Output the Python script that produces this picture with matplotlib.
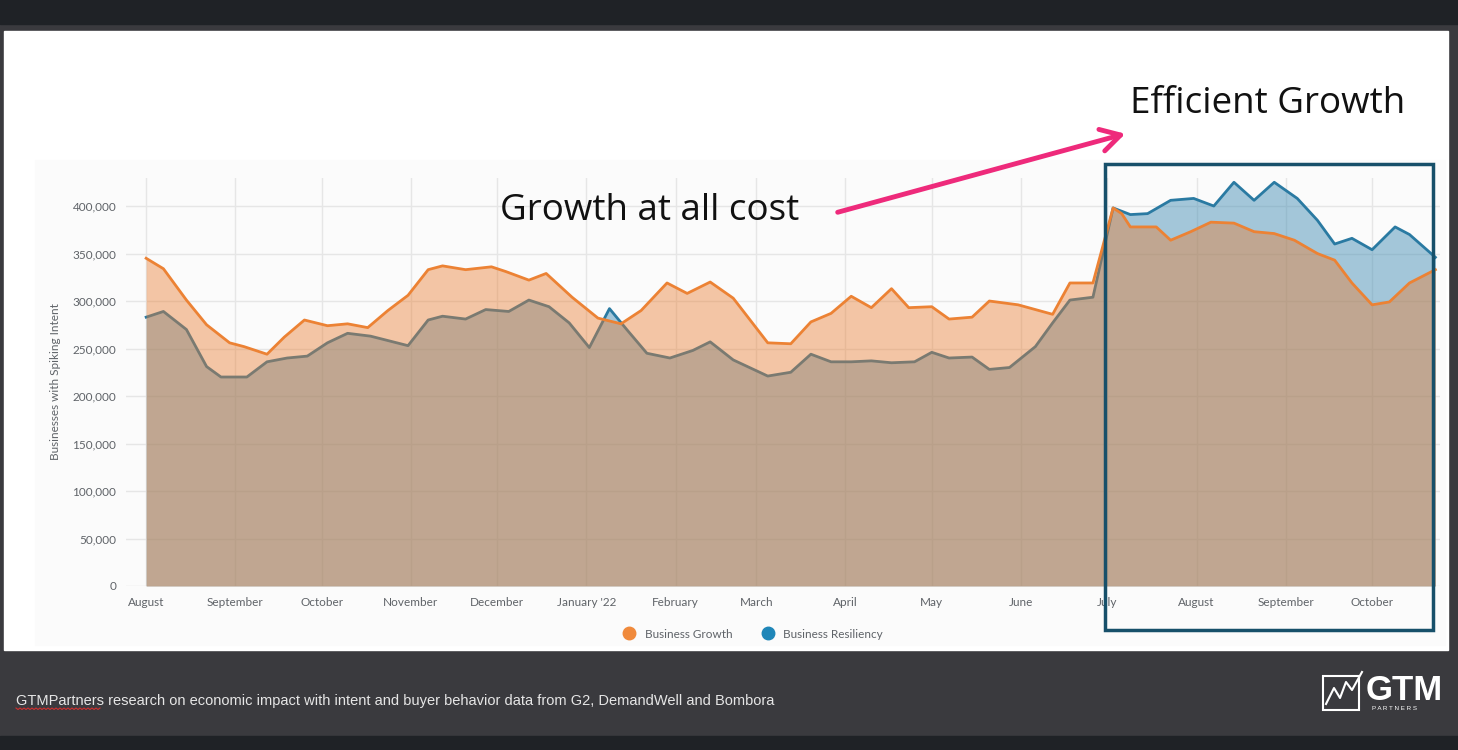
import matplotlib
matplotlib.use('Agg')
import matplotlib.pyplot as plt
from matplotlib.patches import Rectangle, FancyArrowPatch
from matplotlib.lines import Line2D
from matplotlib.ticker import FuncFormatter
import numpy as np
import pandas as pd

W, H = 1458, 750

# x values are days since 1 Aug 2021
growth_days = [0, 6, 14, 21, 29, 34, 42, 48, 55, 63, 70, 77, 84, 91, 98, 103, 111, 120, 125,
               133, 139, 148, 157, 165, 172, 181, 188, 196, 204, 216, 224, 231, 238, 245, 252,
               259, 265, 273, 279, 287, 293, 303, 315, 321, 329, 336, 339, 342, 351, 356, 363,
               370, 378, 385, 392, 399, 407, 413, 419, 426, 432, 439, 448]
growth_values = [345, 334, 301, 275, 256, 252, 244, 262, 280, 274, 276, 272, 290, 306, 333, 337,
                 333, 336, 331, 322, 329, 304, 282, 276, 290, 319, 308, 320, 303, 256, 255, 278,
                 287, 305, 293, 313, 293, 294, 281, 283, 300, 296, 286, 319, 319, 398, 392, 378,
                 378, 364, 373, 383, 382, 373, 371, 364, 350, 343, 319, 296, 299, 319, 333]

resiliency_days = [0, 6, 14, 21, 26, 35, 42, 49, 56, 63, 70, 78, 91, 98, 103, 111, 118, 126,
                   133, 140, 147, 154, 161, 167, 174, 182, 190, 196, 204, 216, 224, 231, 238,
                   245, 252, 259, 267, 273, 279, 287, 293, 300, 309, 315, 321, 329, 336, 342,
                   348, 356, 364, 371, 378, 385, 392, 400, 407, 413, 419, 426, 434, 439, 448]
resiliency_values = [283, 289, 270, 231, 220, 220, 236, 240, 242, 256, 266, 263, 253, 280, 284,
                     281, 291, 289, 301, 294, 277, 251, 292, 270, 245, 240, 248, 257, 238, 221,
                     225, 244, 236, 236, 237, 235, 236, 246, 240, 241, 228, 230, 252, 277, 301,
                     304, 398, 391, 392, 406, 408, 400, 425, 406, 425, 408, 385, 360, 366, 354,
                     378, 370, 346]

month_labels = ['August', 'September', 'October', 'November', 'December', "January '22",
                'February', 'March', 'April', 'May', 'June', 'July', 'August', 'September',
                'October']

start = pd.Timestamp('2021-08-01')
months = pd.date_range(start, periods=len(month_labels), freq='MS')
month_days = [(m - start).days for m in months]

growth_y = [v * 1000 for v in growth_values]
resil_y = [v * 1000 for v in resiliency_values]

fig = plt.figure(figsize=(W / 100, H / 100), dpi=100)
fig.patch.set_facecolor('#3a3a3e')

# background: bars and white slide
bg = fig.add_axes([0, 0, 1, 1], zorder=0)
bg.set_xlim(0, W)
bg.set_ylim(H, 0)
bg.axis('off')
bg.add_patch(Rectangle((0, 0), W, 24, color='#1f2226'))
bg.add_patch(Rectangle((0, 736), W, 14, color='#1f2226'))
bg.add_patch(Rectangle((4, 31), 1444, 619, color='white'))
bg.add_patch(Rectangle((35, 160), 1410, 485, color='#fbfbfb'))

# chart
ax = fig.add_axes([126 / W, 1 - 586 / H, (1440 - 126) / W, (586 - 178) / H], zorder=1)
ax.set_facecolor('none')

orange = '#ec8234'
blue = '#2a7aa2'

# blue first, orange on top so the overlap turns brown
ax.fill_between(resiliency_days, 0, resil_y, color='#3987b1', alpha=0.45, lw=0, zorder=2)
ax.plot(resiliency_days, resil_y, color=blue, lw=2, solid_joinstyle='round', zorder=3)
ax.fill_between(growth_days, 0, growth_y, color='#e97b2e', alpha=0.42, lw=0, zorder=4)
ax.plot(growth_days, growth_y, color=orange, lw=2, solid_joinstyle='round', zorder=5)

ax.set_xlim(-7, 449.6)
ax.set_ylim(0, 429500)
ax.set_yticks(range(0, 400001, 50000))
ax.yaxis.set_major_formatter(FuncFormatter(lambda v, _: f'{int(v):,}'))
ax.set_xticks(month_days)
ax.set_xticklabels(month_labels)
ax.grid(True, color='#e6e6e6', lw=1)
ax.set_axisbelow(True)
for s in ax.spines.values():
    s.set_visible(False)
ax.tick_params(length=0, colors='#5f6368', labelsize=8.5)
ax.tick_params(axis='x', pad=8)
ax.tick_params(axis='y', pad=7)
for lab in ax.get_xticklabels() + ax.get_yticklabels():
    lab.set_family('Lato')
ax.set_ylabel('Businesses with Spiking Intent', fontsize=8.5, color='#5f6368',
              family='Lato', labelpad=8)

handles = [Line2D([], [], ls='none', marker='o', ms=9, color='#f08a3c'),
           Line2D([], [], ls='none', marker='o', ms=9, color='#1f86b8')]
fig.legend(handles, ['Business Growth', 'Business Resiliency'], loc='center',
           bbox_to_anchor=(750 / W, 1 - 634 / H), ncol=2, frameon=False,
           prop={'family': 'Lato', 'size': 8.5}, labelcolor='#5f6368',
           handletextpad=0.3, columnspacing=2.0)

# annotations
ov = fig.add_axes([0, 0, 1, 1], zorder=2)
ov.set_xlim(0, W)
ov.set_ylim(H, 0)
ov.axis('off')
ov.patch.set_alpha(0)

ov.text(500, 211, 'Growth at all cost', fontsize=26.5, family='Open Sans',
        color='#111111', va='center', ha='left')
ov.text(1130, 104, 'Efficient Growth', fontsize=26.5, family='Open Sans',
        color='#111111', va='center', ha='left')
ov.add_patch(FancyArrowPatch((835, 213), (1128, 133), arrowstyle='->,head_length=7,head_width=4',
                             color='#ee2a7b', lw=3.5, mutation_scale=2))
ov.add_patch(Rectangle((1105, 164), 328, 466, fill=False, ec='#17506a', lw=2.5))

# footer
ov.text(16, 701, 'GTMPartners research on economic impact with intent and buyer behavior data '
        'from G2, DemandWell and Bombora', fontsize=10.5, family='Liberation Sans',
        color='#e6e6e6', va='center', ha='left')
sq = np.arange(16, 102, 2)
ov.plot(sq, 708 + (np.arange(len(sq)) % 2) * 1.5, color='#d03030', lw=0.8)
ov.text(1366, 690, 'GTM', fontsize=25, family='Liberation Sans', fontweight='bold',
        color='white', va='center', ha='left')
ov.text(1372, 708, 'P A R T N E R S', fontsize=4.5, family='Liberation Sans',
        color='white', va='center', ha='left')
ov.add_patch(Rectangle((1323, 676), 36, 34, fill=False, ec='white', lw=1.5))
ov.plot([1326, 1334, 1340, 1346, 1352, 1362], [704, 688, 698, 682, 690, 672], color='white', lw=1.5)

fig.savefig('out.png', dpi=100, facecolor=fig.get_facecolor())
